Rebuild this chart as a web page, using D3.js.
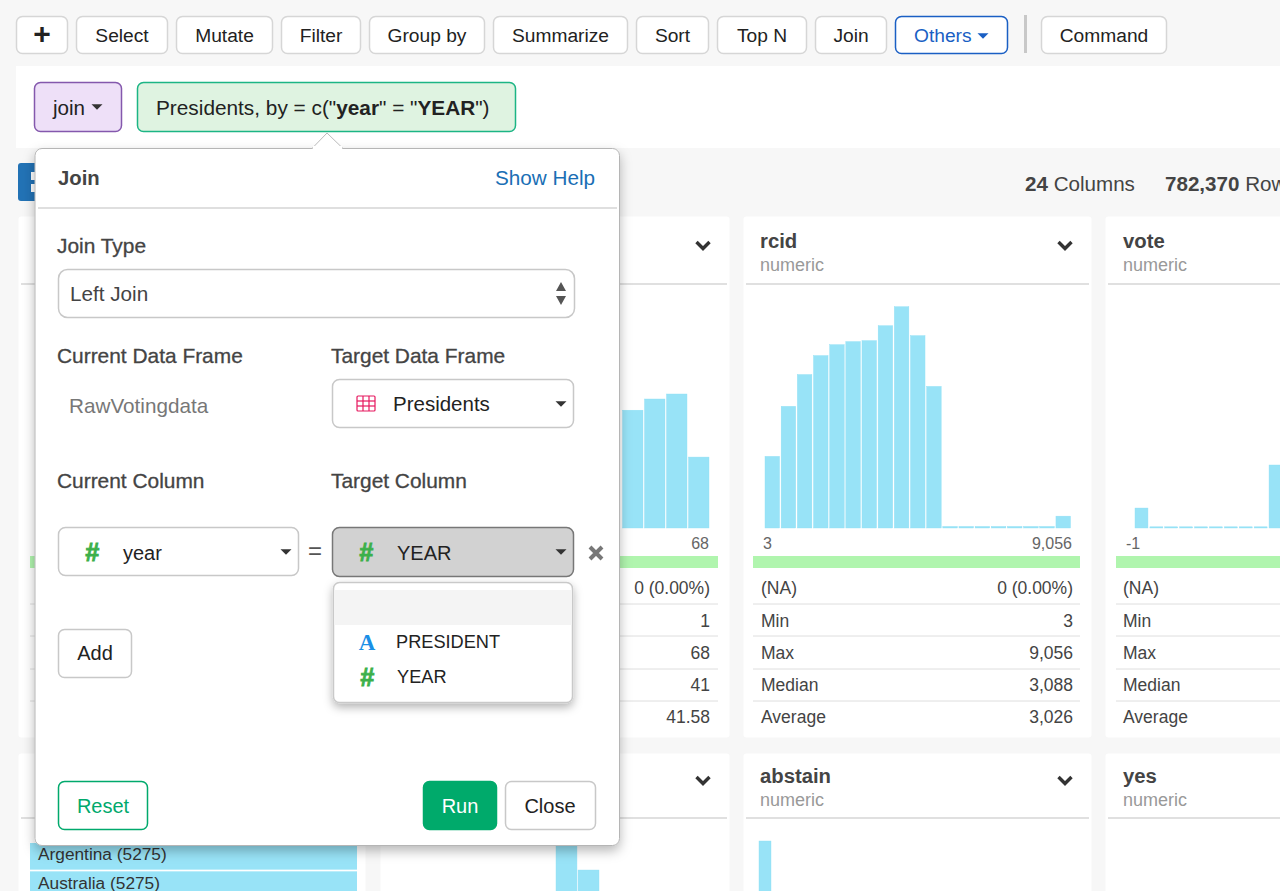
<!DOCTYPE html>
<html><head><meta charset="utf-8">
<style>html,body{margin:0;padding:0;background:#f7f7f7;overflow:hidden}svg{display:block}text{font-family:"Liberation Sans",Arial,sans-serif}</style>
<script src="https://cdn.jsdelivr.net/npm/d3@7/dist/d3.min.js"></script></head><body>
<svg id="c" width="1280" height="891"></svg>
<script>
// ---- data ----
const toolbarLabels = ["+","Select","Mutate","Filter","Group by","Summarize","Sort","Top N","Join"];
const rcidBins = d3.range(19);
const rcidCounts = [30200,51300,64700,72700,77300,78600,79000,85300,93300,81100,59700,650,650,650,650,650,650,650,5000];
const sessionBins = ["b11","b12","b13","b14"];
const sessionCounts = [49500,54200,56300,29800];
const voteBins = d3.range(10);
const voteCounts = [8400,500,500,500,500,500,500,500,500,26500];
const sessionRow2Bins = ["a","b"];
const sessionRow2Counts = [93000,79000];
const abstainBins = ["0"];
const abstainCounts = [93000];
const countryLabels = ["Argentina (5275)","Australia (5275)"];
const countryCounts = [5275,5275];
const sessionStats = ["0 (0.00%)","1","68","41","41.58"];
const rcidStats = ["0 (0.00%)","3","9,056","3,088","3,026"];
const statNames = ["(NA)","Min","Max","Median","Average"];
const dropdownOptions = ["PRESIDENT","YEAR"];

// ---- layout (not data) ----
const toolbarX = [[16,68],[76,168],[176,273],[281,361],[369,485],[493,628],[636,709],[717,807],[815,887]];
const statY = [588,621,653,685,717];
const lineY = [604,636,669,701];

const svg = d3.select("#c");
const defs = svg.append("defs");
const f1 = defs.append("filter").attr("id","sh").attr("x","-10%").attr("y","-10%").attr("width","120%").attr("height","120%");
f1.append("feDropShadow").attr("dx",0).attr("dy",5).attr("stdDeviation",6).attr("flood-color","#000").attr("flood-opacity",.28);
const f2 = defs.append("filter").attr("id","sh2").attr("x","-10%").attr("y","-10%").attr("width","120%").attr("height","130%");
f2.append("feDropShadow").attr("dx",0).attr("dy",4).attr("stdDeviation",5).attr("flood-color","#000").attr("flood-opacity",.3);

function t(x,y,s,o={}){
  const e=svg.append("text").attr("x",x).attr("y",y).attr("dy",".35em").text(s)
    .attr("font-size",o.size||19.2).attr("fill",o.fill||"#333").attr("text-anchor",o.anchor||"start");
  if(o.weight)e.attr("font-weight",o.weight);
  if(o.medium)e.attr("stroke",o.fill||"#333").attr("stroke-width",.3);
  if(o.family)e.style("font-family",o.family);
  if(o.style)e.attr("font-style",o.style);
  return e;
}
function box(x0,y0,x1,y1,o={}){
  const e=svg.append("rect").attr("x",x0+.5).attr("y",y0+.5).attr("width",x1-x0-1).attr("height",y1-y0-1)
   .attr("rx",o.r==null?6:o.r).attr("fill",o.fill||"#fff").attr("stroke",o.stroke||"#d6d6d6").attr("stroke-width",o.sw==null?1.5:o.sw);
  if(o.filter)e.attr("filter",o.filter);
  return e;
}
function line(x0,x1,y,c="#ddd",w=1){svg.append("line").attr("x1",x0).attr("x2",x1).attr("y1",y).attr("y2",y).attr("stroke",c).attr("stroke-width",w);}
function caret(cx,cy,c="#333",s=5.5){svg.append("path").attr("d",`M${cx-s},${cy-s/2}L${cx+s},${cy-s/2}L${cx},${cy+s/2}Z`).attr("fill",c);}
function chevron(cx,cy){svg.append("path").attr("d",`M${cx-6.5},${cy-3}L${cx},${cy+3.5}L${cx+6.5},${cy-3}`).attr("fill","none").attr("stroke","#333").attr("stroke-width",3.4);}
function hash(cx,cy,size=25){t(cx,cy,"#",{size,fill:"#3cb04a",anchor:"middle",weight:"bold",style:"italic"}).attr("stroke","#3cb04a").attr("stroke-width",.9);}

function histogram(bins,counts,x0,x1,base,top,pad){
  const x=d3.scaleBand().domain(bins).range([x0,x1]).paddingInner(pad);
  const y=d3.scaleLinear().domain([0,d3.max(counts)]).range([base,top]);
  svg.append("g").selectAll("rect").data(counts).join("rect")
    .attr("x",(d,i)=>x(bins[i])).attr("width",x.bandwidth())
    .attr("y",d=>y(d)).attr("height",d=>base-y(d))
    .attr("fill","#98e3f7").attr("stroke","#8fdff5").attr("stroke-width",.4);
}

// white bands / cards
svg.append("rect").attr("x",16).attr("y",66).attr("width",1264).attr("height",82).attr("fill","#fff");
[[18,366],[380,730],[743,1092],[1105,1290]].forEach(([a,b])=>{
  box(a,216,b,738,{r:3,stroke:"none",sw:0});
  box(a,753,b,900,{r:3,stroke:"none",sw:0});
  line(a+3,b-3,284,"#e0e0e0",2);
  line(a+3,b-3,818,"#e0e0e0",2);
});

// toolbar
toolbarLabels.forEach((l,i)=>{
  const [a,b]=toolbarX[i];
  box(a,16,b,54);
  if(l==="+") t((a+b)/2,33,l,{size:30,anchor:"middle",weight:"bold",fill:"#222"});
  else t((a+b)/2,35,l,{anchor:"middle",fill:"#222"});
});
box(895,16,1008,54,{stroke:"#1a5fc4",fill:"#fff"});
t(914,35,"Others",{fill:"#1a5fc4"});
caret(983,36,"#1a5fc4",5.5);
svg.append("rect").attr("x",1024).attr("y",15).attr("width",3).attr("height",38).attr("fill","#c8c8c8");
box(1041,16,1167,54);
t(1104,35,"Command",{anchor:"middle",fill:"#222"});

// step row
box(34,82,122,132,{fill:"#eee0f8",stroke:"#8458ad"});
t(53,108,"join",{size:20.6,fill:"#222"});
caret(97,107,"#333",5.5);
box(137,82,516,132,{fill:"#dff3e1",stroke:"#1cb585"});
const st=t(156,108,"",{size:20.8,fill:"#222"});
[["Presidents, by = c(\"",0],["year",1],["\" = \"",0],["YEAR",1],["\")",0]].forEach(([s,b])=>{
  st.append("tspan").text(s).attr("font-weight",b?"bold":null);
});

// blue button, counters
svg.append("rect").attr("x",18).attr("y",163).attr("width",30).attr("height",38).attr("rx",3).attr("fill","#2272b5");
svg.append("rect").attr("x",31).attr("y",172).attr("width",8).attr("height",8).attr("fill","#fff");
svg.append("rect").attr("x",31).attr("y",184).attr("width",8).attr("height",8).attr("fill","#fff");
const c1=t(1025,184,"",{size:20.6,fill:"#444"});
c1.append("tspan").text("24").attr("font-weight","bold");c1.append("tspan").text(" Columns");
const c2=t(1165,184,"",{size:20.6,fill:"#444"});
c2.append("tspan").text("782,370").attr("font-weight","bold");c2.append("tspan").text(" Rows");

// cards: headers
t(760,241,"rcid",{size:20.3,weight:"bold",fill:"#444"});
t(760,265,"numeric",{size:18,fill:"#999"});
chevron(1065,245);chevron(703,245);
t(1123,241,"vote",{size:20.3,weight:"bold",fill:"#444"});
t(1123,265,"numeric",{size:18,fill:"#999"});
t(760,776,"abstain",{size:20.3,weight:"bold",fill:"#444"});
t(760,800,"numeric",{size:18,fill:"#999"});
chevron(1065,780);chevron(703,780);
t(1123,776,"yes",{size:20.3,weight:"bold",fill:"#444"});
t(1123,800,"numeric",{size:18,fill:"#999"});

// histograms
histogram(sessionBins,sessionCounts,622.5,709,528,394,.07);
histogram(rcidBins,rcidCounts,765,1070.5,528,306.7,.1);
histogram(voteBins,voteCounts,1135,1282,528,465,.13);
histogram(sessionRow2Bins,sessionRow2Counts,556,599,1062,836,.05);
histogram(abstainBins,abstainCounts,759,771,1062,841,0);

// country bars
const cy=d3.scaleBand().domain(countryLabels).range([843,898]).paddingInner(.06);
const cx=d3.scaleLinear().domain([0,5275]).range([30,357]);
svg.append("g").selectAll("rect").data(countryCounts).join("rect")
  .attr("x",30).attr("y",(d,i)=>cy(countryLabels[i])).attr("width",d=>cx(d)-30).attr("height",cy.bandwidth()).attr("fill","#98e3f7");
countryLabels.forEach(l=>t(38,cy(l)+cy.bandwidth()/2-2,l,{size:17.3,fill:"#333"}));

// range labels and green bars
t(709,543,"68",{size:16,fill:"#666",anchor:"end"});
t(763,543,"3",{size:16,fill:"#666"});
t(1072,543,"9,056",{size:16,fill:"#666",anchor:"end"});
t(1126,543,"-1",{size:16,fill:"#666"});
[[30,360],[392,718],[753,1080],[1116,1290]].forEach(([a,b])=>{
  svg.append("rect").attr("x",a).attr("y",556).attr("width",b-a).attr("height",12).attr("fill","#b0f5ae");
});

// stat tables
[[30,356],[392,718],[753,1080],[1116,1290]].forEach(([a,b])=>lineY.forEach(y=>line(a,b,y,"#dedede",1)));
statY.forEach((y,i)=>{
  t(710,y,sessionStats[i],{size:17.5,fill:"#444",anchor:"end"});
  t(761,y,statNames[i],{size:17.5,fill:"#444"});
  t(1073,y,rcidStats[i],{size:17.5,fill:"#444",anchor:"end"});
  t(1123,y,statNames[i],{size:17.5,fill:"#444"});
});

// modal
box(34.5,148,620,846,{r:7,stroke:"#b5b5b5",sw:1,filter:"url(#sh)"});
svg.append("path").attr("d","M312,148.5L327,133L343,148.5").attr("fill","#fff").attr("stroke","#bbb").attr("stroke-width",1);
svg.append("rect").attr("x",313).attr("y",146).attr("width",29).attr("height",4).attr("fill","#fff");
t(58,178,"Join",{size:20.3,weight:"bold",fill:"#444"});
t(595,178,"Show Help",{size:20.7,fill:"#1a6fb5",anchor:"end"});
line(38,617,208,"#d4d4d4",1.5);

const lab={size:20.9,fill:"#444",medium:true};
t(57,246,"Join Type",lab);
box(58,269,575,318,{r:9,stroke:"#c8c8c8"});
t(70,294,"Left Join",{size:20.7,fill:"#444"});
svg.append("path").attr("d","M556,291L566,291L561,282ZM556,296L566,296L561,305Z").attr("fill","#555");

t(57,356,"Current Data Frame",lab);
t(331,356,"Target Data Frame",lab);
t(69,406,"RawVotingdata",{size:20.7,fill:"#777"});
box(332,379,574,428,{r:7,stroke:"#c8c8c8"});
const ti=svg.append("g").attr("stroke","#e6185f").attr("fill","none").attr("stroke-width",1.2);
ti.append("rect").attr("x",357).attr("y",396).attr("width",18).attr("height",15).attr("rx",1);
[401,406].forEach(y=>ti.append("line").attr("x1",357).attr("x2",375).attr("y1",y).attr("y2",y));
[363,369].forEach(x=>ti.append("line").attr("x1",x).attr("x2",x).attr("y1",396).attr("y2",411));
t(393,404,"Presidents",{size:20.5,fill:"#222"});
caret(561,404,"#333",5.5);

t(57,481,"Current Column",lab);
t(331,481,"Target Column",lab);
box(58,527,299,576,{r:7,stroke:"#c8c8c8"});
hash(92,552);
t(123,553,"year",{size:20,fill:"#222"});
caret(286,552,"#333",5.5);
t(315,551,"=",{size:24,fill:"#555",anchor:"middle"});
box(332,527,574,577,{r:7,fill:"#d2d2d2",stroke:"#777"});
hash(366,552);
t(397,553,"YEAR",{size:20,fill:"#222"});
caret(561,552,"#333",5.5);
svg.append("path").attr("d","M590,547L602,559M602,547L590,559").attr("stroke","#777").attr("stroke-width",4);

// dropdown
box(333,582,573,703,{r:6,stroke:"#c9c9c9",filter:"url(#sh2)"});
svg.append("rect").attr("x",334).attr("y",590).attr("width",238).attr("height",35).attr("fill","#f4f4f4");
t(367,642,"A",{size:23,fill:"#1a8fe6",anchor:"middle",weight:"bold",family:"'Liberation Serif',serif"});
hash(367,677);
dropdownOptions.forEach((o,i)=>t(i?397:396,[642,677][i],o,{size:18.2,fill:"#222"}));

box(58,629,132,678,{stroke:"#c8c8c8"});
t(95,653,"Add",{size:20,fill:"#222",anchor:"middle"});
box(58,781,148,830,{stroke:"#00a96c"});
t(103,806,"Reset",{size:20,fill:"#00a96c",anchor:"middle"});
box(423,781,497,830,{fill:"#00aa6b",stroke:"#00aa6b"});
t(460,806,"Run",{size:20,fill:"#fff",anchor:"middle"});
box(505,781,596,830,{stroke:"#c8c8c8"});
t(550,806,"Close",{size:20,fill:"#222",anchor:"middle"});
</script></body></html>
